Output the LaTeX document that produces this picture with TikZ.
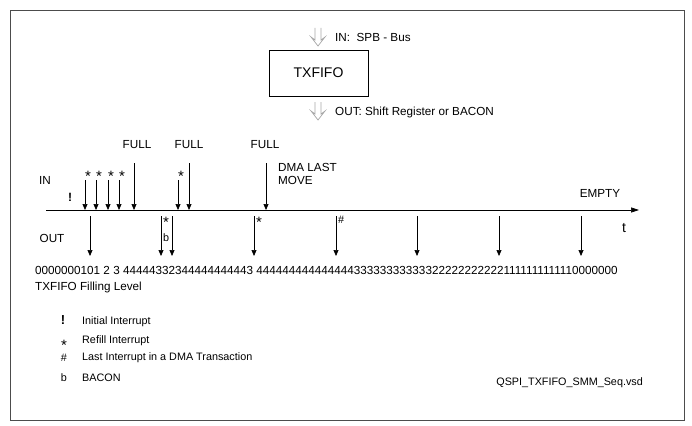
\documentclass[tikz,border=0pt]{standalone}
\usepackage{fontspec}
\setmainfont{Liberation Sans}
\usetikzlibrary{arrows.meta}
\begin{document}
\begin{tikzpicture}[x=1pt,y=-1pt,
  txt/.style={font=\fontsize{11.7}{13}\selectfont, inner sep=0pt},
  sm/.style={font=\fontsize{10.8}{12}\selectfont, inner sep=0pt},
  st/.style={font=\fontsize{15}{16}\selectfont, inner sep=0pt},
  arr/.style={-{Triangle[length=6pt,width=5pt]}, line width=0.7pt},
  hol/.style={draw=gray!70, line width=0.7pt}]
\useasboundingbox (0,0) rectangle (692,425);
\draw[line width=0.8pt, draw=black!70] (10,10) rectangle (684,420);
% TXFIFO box
\node[draw, line width=0.7pt, minimum width=99pt, minimum height=46pt, font=\fontsize{14}{16}\selectfont] (box) at (318.5,73) {TXFIFO};
\draw[hol] (315,28) -- (315,40) -- (311,37) -- (318,46) -- (325,37) -- (321,40) -- (321,28);
\draw[hol] (315,102) -- (315,114) -- (311,111) -- (318,120) -- (325,111) -- (321,114) -- (321,102);
\node[txt, anchor=west] (in) at (335,37) {IN:\ \ SPB - Bus};
\node[txt, anchor=west] (out) at (335,112) {OUT: Shift Register or BACON};
% axis
\coordinate (a0) at (46,210);
\coordinate (a1) at (639,210);
\draw[-{Triangle[length=8pt,width=5pt]}, line width=0.7pt] (a0) -- (a1);
\node[txt] (IN) at (45,180) {IN};
\node[txt] (OUT) at (52,238) {OUT};
\node[txt] (EMPTY) at (600,193) {EMPTY};
\node[font=\fontsize{14}{16}\selectfont, inner sep=0pt] (t) at (624,228) {t};
\node[txt, font=\bfseries\fontsize{12}{13}\selectfont] (ex) at (70,197) {!};
% IN arrows
\foreach \x/\n in {85/s1,96/s2,108/s3,119/s4,178/s5}{
  \coordinate (\n a) at (\x,180); \coordinate (\n b) at (\x,210);
  \draw[arr] (\n a) -- (\n b);
  \node[st] at (\x+3,176) {*};
}
\foreach \x/\n in {134/f1,189/f2,266/f3}{
  \coordinate (\n a) at (\x,163); \coordinate (\n b) at (\x,210);
  \draw[arr] (\n a) -- (\n b);
}
\node[txt] (F1) at (137,145) {FULL};
\node[txt] (F2) at (189,145) {FULL};
\node[txt] (F3) at (265,145) {FULL};
\node[txt, anchor=west, align=left] (dma) at (278,174) {DMA LAST\\MOVE};
% OUT arrows
\foreach \x/\n in {90/o1,161/o2,172/o3,254/o4,336/o5,417/o6,499/o7,581/o8}{
  \coordinate (\n a) at (\x,216); \coordinate (\n b) at (\x,256);
  \draw[arr] (\n a) -- (\n b);
}
\node[st] at (166,222) {*};
\node[sm] at (166,238) {b};
\node[st] at (259,222) {*};
\node[sm] at (341,220) {\#};
% level string
\node[txt, anchor=west] (lvl) at (35,270) {0000000101 2 3 44444332344444444443 444444444444444333333333333222222222221111111111110000000};
\node[txt, anchor=west] (fl) at (35,287) {TXFIFO Filling Level};
% legend
\node[font=\bfseries\fontsize{13}{14}\selectfont, inner sep=0pt] (l1) at (63,320) {!};
\node[sm, anchor=west] at (82,322) {Initial Interrupt};
\node[st] (l2) at (64,345) {*};
\node[sm, anchor=west] at (82,341) {Refill Interrupt};
\node[sm] (l3) at (64,358) {\#};
\node[sm, anchor=west] at (82,358) {Last Interrupt in a DMA Transaction};
\node[sm] (l4) at (64,378) {b};
\node[sm, anchor=west] at (82,378) {BACON};
\node[sm, anchor=east] (file) at (643,383) {QSPI\_TXFIFO\_SMM\_Seq.vsd};
\end{tikzpicture}
\end{document}
